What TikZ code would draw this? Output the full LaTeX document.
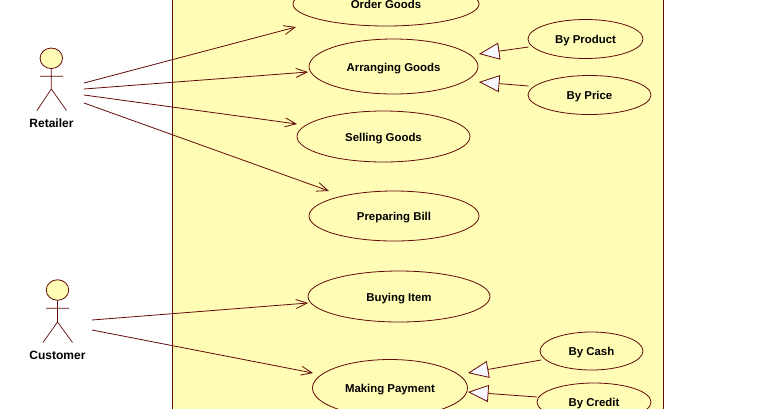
\documentclass[tikz,border=0pt]{standalone}
\usepackage{fontspec}
\setmainfont{Liberation Sans}
\usetikzlibrary{shapes.geometric,arrows.meta}
\definecolor{umlline}{HTML}{640A0A}
\definecolor{umlfill}{HTML}{FFFCB5}
\tikzset{
  usecase/.style={ellipse,draw=umlline,fill=umlfill,line width=0.8pt,inner sep=0pt,font=\bfseries\fontsize{11.4}{13}\selectfont,text=black,text height=9pt,text depth=0pt},
  actorhead/.style={ellipse,draw=umlline,fill=umlfill,line width=0.8pt,minimum width=22.5pt,minimum height=20.5pt,inner sep=0pt},
  actorname/.style={font=\bfseries\fontsize{12}{14}\selectfont,text=black,inner sep=0pt},
  stick/.style={draw=umlline,line width=0.7pt},
  assoc/.style={draw=umlline,line width=0.8pt,-{Straight Barb[length=11pt,width=9pt]}},
  general/.style={draw=umlline,line width=0.8pt,-{Triangle[open,length=20.5pt,width=17pt,fill=white!97!blue]}}
}
\begin{document}
\begin{tikzpicture}[x=1pt,y=-1pt]
            \useasboundingbox (0,0) rectangle (776,408);
            \clip (0,0) rectangle (776,408);
            \fill [white] (0,0) rectangle (776,408);
            \draw [draw=umlline,fill=umlfill,line width=0.9pt] (172.5,-5) rectangle (663,415);
            % use cases
            \node [usecase,minimum width=186pt,minimum height=44pt] (order) at (386,4) {Order Goods};
            \node [usecase,minimum width=169pt,minimum height=55pt] (arrange) at (393.5,66.5) {Arranging Goods};
            \node [usecase,minimum width=173pt,minimum height=51pt] (sell) at (383.5,136.5) {Selling Goods};
            \node [usecase,minimum width=170pt,minimum height=50pt] (bill) at (394,216) {Preparing Bill};
            \node [usecase,minimum width=182pt,minimum height=51pt] (buy) at (399,296.5) {Buying Item};
            \node [usecase,minimum width=155pt,minimum height=57pt] (pay) at (390,388) {Making Payment};
            \node [usecase,minimum width=115pt,minimum height=39pt] (product) at (585.5,39) {By Product};
            \node [usecase,minimum width=123pt,minimum height=39pt] (price) at (589.5,95) {By Price};
            \node [usecase,minimum width=103pt,minimum height=38pt] (cash) at (591.5,351) {By Cash};
            \node [usecase,minimum width=114pt,minimum height=38pt] (credit) at (594,402) {By Credit};
            % actors
            \node [actorhead] (rhead) at (51.3,58.3) {};
            \node [actorname] (retailer) at (51.5,123.5) {Retailer};
            \draw [stick] (rhead.south) -- (51.3,89) -- (37,110.5) (51.3,89) -- (66.5,110.5) (40,76.3) -- (63,76.3);
            \node [actorhead] (chead) at (57.5,290) {};
            \node [actorname] (customer) at (57.5,355.5) {Customer};
            \draw [stick] (chead.south) -- (57.5,322) -- (43,342.5) (57.5,322) -- (72.5,342.5) (46,308.3) -- (69,308.3);
            % free ends of the connectors
            \coordinate (r1) at (84,83);
            \coordinate (r2) at (84,89);
            \coordinate (r3) at (84,95);
            \coordinate (r4) at (84,103);
            \coordinate (c1) at (92,320);
            \coordinate (c2) at (92,330);
            \coordinate (t1) at (296,27);
            \coordinate (t2) at (308,72);
            \coordinate (t3) at (297,124);
            \coordinate (t4) at (329,191);
            \coordinate (t5) at (308,303);
            \coordinate (t6) at (313,373);
            \draw [assoc] (r1) -- (t1);
            \draw [assoc] (r2) -- (t2);
            \draw [assoc] (r3) -- (t3);
            \draw [assoc] (r4) -- (t4);
            \draw [assoc] (c1) -- (t5);
            \draw [assoc] (c2) -- (t6);
            % generalisations
            \coordinate (g1) at (479,54);
            \coordinate (g2) at (479,82);
            \coordinate (g3) at (468,373);
            \coordinate (g4) at (468,392);
            \draw [general] (528.5,47) coordinate (s1) -- (g1);
            \draw [general] (528.5,86) coordinate (s2) -- (g2);
            \draw [general] (541,360) coordinate (s3) -- (g3);
            \draw [general] (537,397) coordinate (s4) -- (g4);
        \end{tikzpicture}
\end{document}
